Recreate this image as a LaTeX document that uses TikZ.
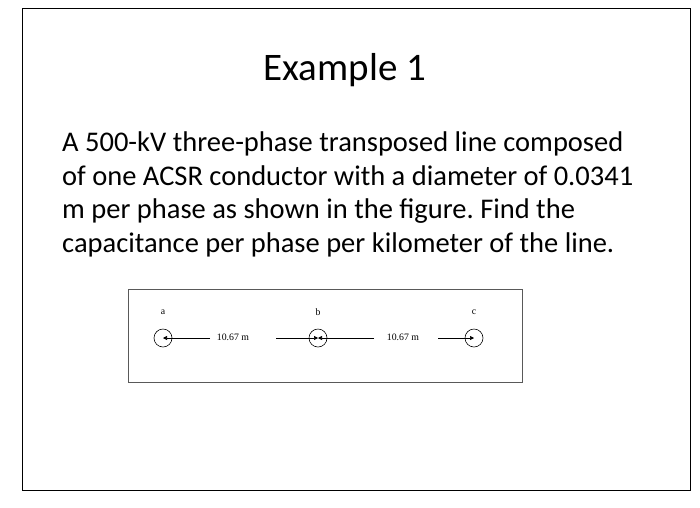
\documentclass[tikz,border=0pt]{standalone}
\usepackage{fontspec}
\setmainfont{Carlito}
\newfontfamily\smallserif{Liberation Serif}
\usetikzlibrary{arrows.meta}
\frenchspacing
\begin{document}
\begin{tikzpicture}[x=1pt,y=-1pt,
  cond/.style={circle,draw,line width=0.6pt,minimum size=18pt,inner sep=0pt},
  lead/.style={line width=0.6pt,-{Triangle[length=4pt,width=4pt]}},
  small/.style={font=\smallserif\fontsize{9.8}{11}\selectfont,inner sep=1pt}]
\useasboundingbox (0,0) rectangle (700,507);
\fill[white] (0,0) rectangle (700,507);
\draw[line width=1pt] (22,8) rectangle (690,490);
\node[font=\fontsize{39}{44}\selectfont] (title) at (345,70) {Example 1};
\node[anchor=base west,align=left,font=\fontsize{28.5}{33.5}\selectfont,inner sep=0pt] (body) at (62,252)
 {A 500-kV three-phase transposed line composed\\of one ACSR conductor with a diameter of 0.0341\\m per phase as shown in the figure. Find the\\capacitance per phase per kilometer of the line.};
\draw[line width=0.8pt,gray!70!black] (128,289) rectangle (522,382);
\node[cond] (a) at (163,338) {};
\node[cond] (b) at (318,338) {};
\node[cond] (c) at (474,338) {};
\node[small] (la) at (163,312) {a};
\node[small] (lb) at (318,312) {b};
\node[small] (lc) at (474,312) {c};
\node[small] (d1) at (233,337) {10.67 m};
\node[small] (d2) at (403,337) {10.67 m};
\coordinate (pa) at (210,338);
\coordinate (pbl) at (276,338);
\coordinate (pbr) at (374,338);
\coordinate (pc) at (438,338);
\draw[lead] (pa) -- (a.center);
\draw[lead] (pbl) -- (b.center);
\draw[lead] (pbr) -- (b.center);
\draw[lead] (pc) -- (c.center);
\end{tikzpicture}
\end{document}
